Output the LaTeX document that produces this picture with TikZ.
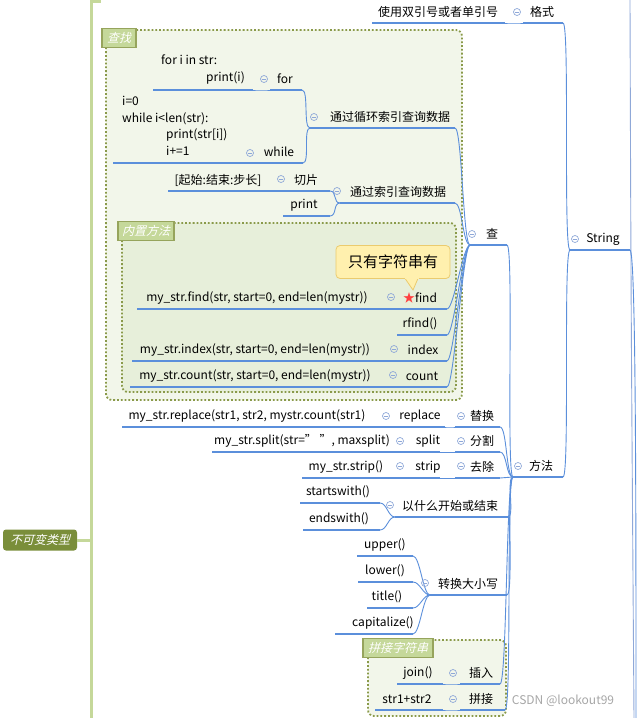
\documentclass[tikz,border=0pt]{standalone}
\usepackage{fontspec}
\setmainfont{Noto Sans CJK SC}[AutoFakeSlant=0.25]
\definecolor{lb}{HTML}{5B8FDB}
\definecolor{mkc}{HTML}{8FA8D8}
\definecolor{olv}{HTML}{8A9A4A}
\definecolor{tabf}{HTML}{C5D89A}
\definecolor{grpf}{HTML}{F2F6EA}
\definecolor{grpi}{HTML}{E7EFDA}
\definecolor{rootf}{HTML}{7A8E3A}
\definecolor{callf}{HTML}{FFF0AE}
\definecolor{callb}{HTML}{EBCB6E}
\newcommand\mmtopic[6]{%
  \coordinate (#1-l) at (#2,#4); \coordinate (#1-r) at (#3,#4);
  \draw[ul] (#1-l) -- (#1-r);
  \node[lbl] (#1) at (#5,{#4-11}) {#6};}
\begin{document}
\begin{tikzpicture}[x=1pt,y=-1pt,
  ul/.style={lb,line width=1.6pt},
  con/.style={lb,line width=0.9pt},
  lbl/.style={inner sep=0pt,font=\fontsize{12}{16}\selectfont},
  code/.style={inner sep=0pt,align=left,anchor=north west,font=\fontsize{12}{16.5}\selectfont},
  mk/.style={circle,draw=mkc,line width=0.7pt,minimum size=7pt,inner sep=0pt,
    path picture={\draw[mkc,line width=0.7pt] ([xshift=1.8pt]path picture bounding box.west) -- ([xshift=-1.8pt]path picture bounding box.east);}},
  grp/.style={draw=olv,line width=1.8pt,dotted,rounded corners=6pt},
  tab/.style={fill=tabf,draw=olv!90,line width=1.4pt,text=white,font=\fontsize{12}{14}\selectfont\itshape,inner sep=2pt,minimum height=19pt},
  trunk/.style={tabf,line width=3pt}]
\useasboundingbox (0,0) rectangle (641,718);
% trunk and root
\draw[trunk] (91,0) -- (91,718);
\draw[trunk] (91,1.5) -- (101,1.5);
\node[fill=rootf,rounded corners=3pt,text=white,font=\fontsize{12}{14}\selectfont\itshape,minimum width=74pt,minimum height=21pt,inner sep=0pt] (root) at (40,540) {不可变类型};
\draw[trunk] (root.east) -- (91,540);
% groups
\draw[grp,fill=grpf] (106,30) rectangle (462,400);
\node[tab,minimum width=34pt] (tabcz) at (119,38) {查找};
\draw[grp,fill=grpi] (122,223) rectangle (456,392);
\node[tab,minimum width=56pt] (tabnz) at (146,231) {内置方法};
\draw[grp,fill=grpf] (368,640) rectangle (506,716);
\node[tab,minimum width=70pt] (tabpj) at (398,648) {拼接字符串};
% right side
\coordinate (tr-top) at (630,0);
\coordinate (tr-bot) at (636,718);
\draw[con,mkc] (tr-top) .. controls (631,300) .. (634,718);
\mmtopic{str}{570}{630}{250}{603}{String}
\draw[con] (str-r) .. controls +(6,0) and +(0,-200) .. (tr-bot);
\mmtopic{fmt}{523}{563}{23}{542}{格式}
\mmtopic{fmtc}{372}{505}{23}{438}{使用双引号或者单引号}
\mmtopic{cha}{470}{507}{245}{492}{查}
\mmtopic{ff}{513}{563}{477}{541}{方法}
% 查 subtree
\mmtopic{loop}{310}{455}{128}{390}{通过循环索引查询数据}
\mmtopic{idx}{340}{455}{203}{398}{通过索引查询数据}
\mmtopic{for}{270}{302}{90}{285}{for}
\coordinate (forc-l) at (153,90); \coordinate (forc-r) at (253,90);
\draw[ul] (forc-l) -- (forc-r);
\node[code] (forc) at (161,55) {for i in str:\\\hspace*{45pt}print(i)};
\mmtopic{while}{240}{303}{163}{279}{while}
\coordinate (whc-l) at (113,163); \coordinate (whc-r) at (240,163);
\draw[ul] (whc-l) -- (whc-r);
\node[code] (whc) at (122,96) {i=0\\while i<len(str):\\\hspace*{44pt}print(str[i])\\\hspace*{44pt}i+=1};
\mmtopic{qp}{287}{330}{191}{306}{切片}
\mmtopic{qpc}{168}{287}{191}{218}{[起始:结束:步长]}
\mmtopic{prt}{283}{330}{216}{304}{print}
\mmtopic{find}{397}{447}{309}{420}{{\color{red!75}★}find}
\mmtopic{findc}{137}{397}{309}{257}{my\_str.find(str, start=0, end=len(mystr))}
\mmtopic{rfind}{397}{447}{335}{420}{rfind()}
\mmtopic{index}{400}{447}{361}{423}{index}
\mmtopic{indexc}{132}{400}{361}{255}{my\_str.index(str, start=0, end=len(mystr))}
\mmtopic{count}{400}{447}{387}{422}{count}
\mmtopic{countc}{130}{400}{387}{255}{my\_str.count(str, start=0, end=len(mystr))}
% callout
\node[fill=callf,draw=callb,rounded corners=4pt,line width=0.8pt,minimum width=114pt,minimum height=33pt,inner sep=0pt,font=\fontsize{15}{18}\selectfont] (call) at (393,262) {只有字符串有};
\draw[fill=callf,draw=callb,line width=0.8pt] (405,278.4) -- (413,290) -- (418,278.4);
\fill[callf] (404.5,277) rectangle (418.5,279.3);
% 方法 subtree
\mmtopic{th}{455}{500}{427}{482}{替换}
\mmtopic{repl}{393}{445}{427}{420}{replace}
\mmtopic{replc}{122}{393}{427}{247}{my\_str.replace(str1, str2, mystr.count(str1)}
\mmtopic{fg}{455}{500}{452}{482}{分割}
\mmtopic{spl}{393}{440}{452}{428}{split}
\mmtopic{splc}{212}{393}{452}{302}{my\_str.split(str=" ", maxsplit)}
\mmtopic{qc}{455}{500}{478}{482}{去除}
\mmtopic{st}{393}{440}{478}{428}{strip}
\mmtopic{stc}{302}{393}{478}{346}{my\_str.strip()}
\mmtopic{ysm}{395}{508}{517}{450}{以什么开始或结束}
\mmtopic{sw}{300}{380}{503}{338}{startswith()}
\mmtopic{ew}{303}{380}{530}{339}{endswith()}
\mmtopic{zh}{430}{507}{595}{468}{转换大小写}
\mmtopic{up}{357}{413}{556}{385}{upper()}
\mmtopic{lo}{358}{413}{582}{385}{lower()}
\mmtopic{ti}{367}{413}{608}{387}{title()}
\mmtopic{ca}{335}{413}{634}{383}{capitalize()}
\mmtopic{cr}{460}{500}{684}{481}{插入}
\mmtopic{join}{397}{443}{684}{418}{join()}
\mmtopic{pj}{460}{505}{710}{481}{拼接}
\mmtopic{plus}{375}{443}{710}{407}{str1+str2}
% connectors
\foreach \c/\p in {forc/for,whc/while,for/loop,while/loop,qpc/qp,qp/idx,prt/idx,
  loop/cha,idx/cha,find/cha,rfind/cha,index/cha,count/cha,
  findc/find,indexc/index,countc/count,cha/ff,fmt/str,ff/str,fmtc/fmt,
  replc/repl,repl/th,splc/spl,spl/fg,stc/st,st/qc,th/ff,fg/ff,qc/ff,
  sw/ysm,ew/ysm,ysm/ff,up/zh,lo/zh,ti/zh,ca/zh,zh/ff,join/cr,cr/ff,plus/pj,pj/ff}
  \draw[con] (\c-r) .. controls +(7,0) and +(-7,0) .. (\p-l);
% collapse markers
\foreach \x/\y in {517/12,575/239,472/234,518/466,314/117,337/191,264/79,250/153,281/179,
  391/297,394/349,393/375,461/416,386/416,461/441,400/441,461/466,400/466,390/505,425/583,453/673,453/699}
  \node[mk] at (\x,\y) {};
% watermark
\node[lbl,text=gray!70,font=\fontsize{12}{14}\selectfont] (wm) at (563,701) {CSDN @lookout99};
\end{tikzpicture}
\end{document}
